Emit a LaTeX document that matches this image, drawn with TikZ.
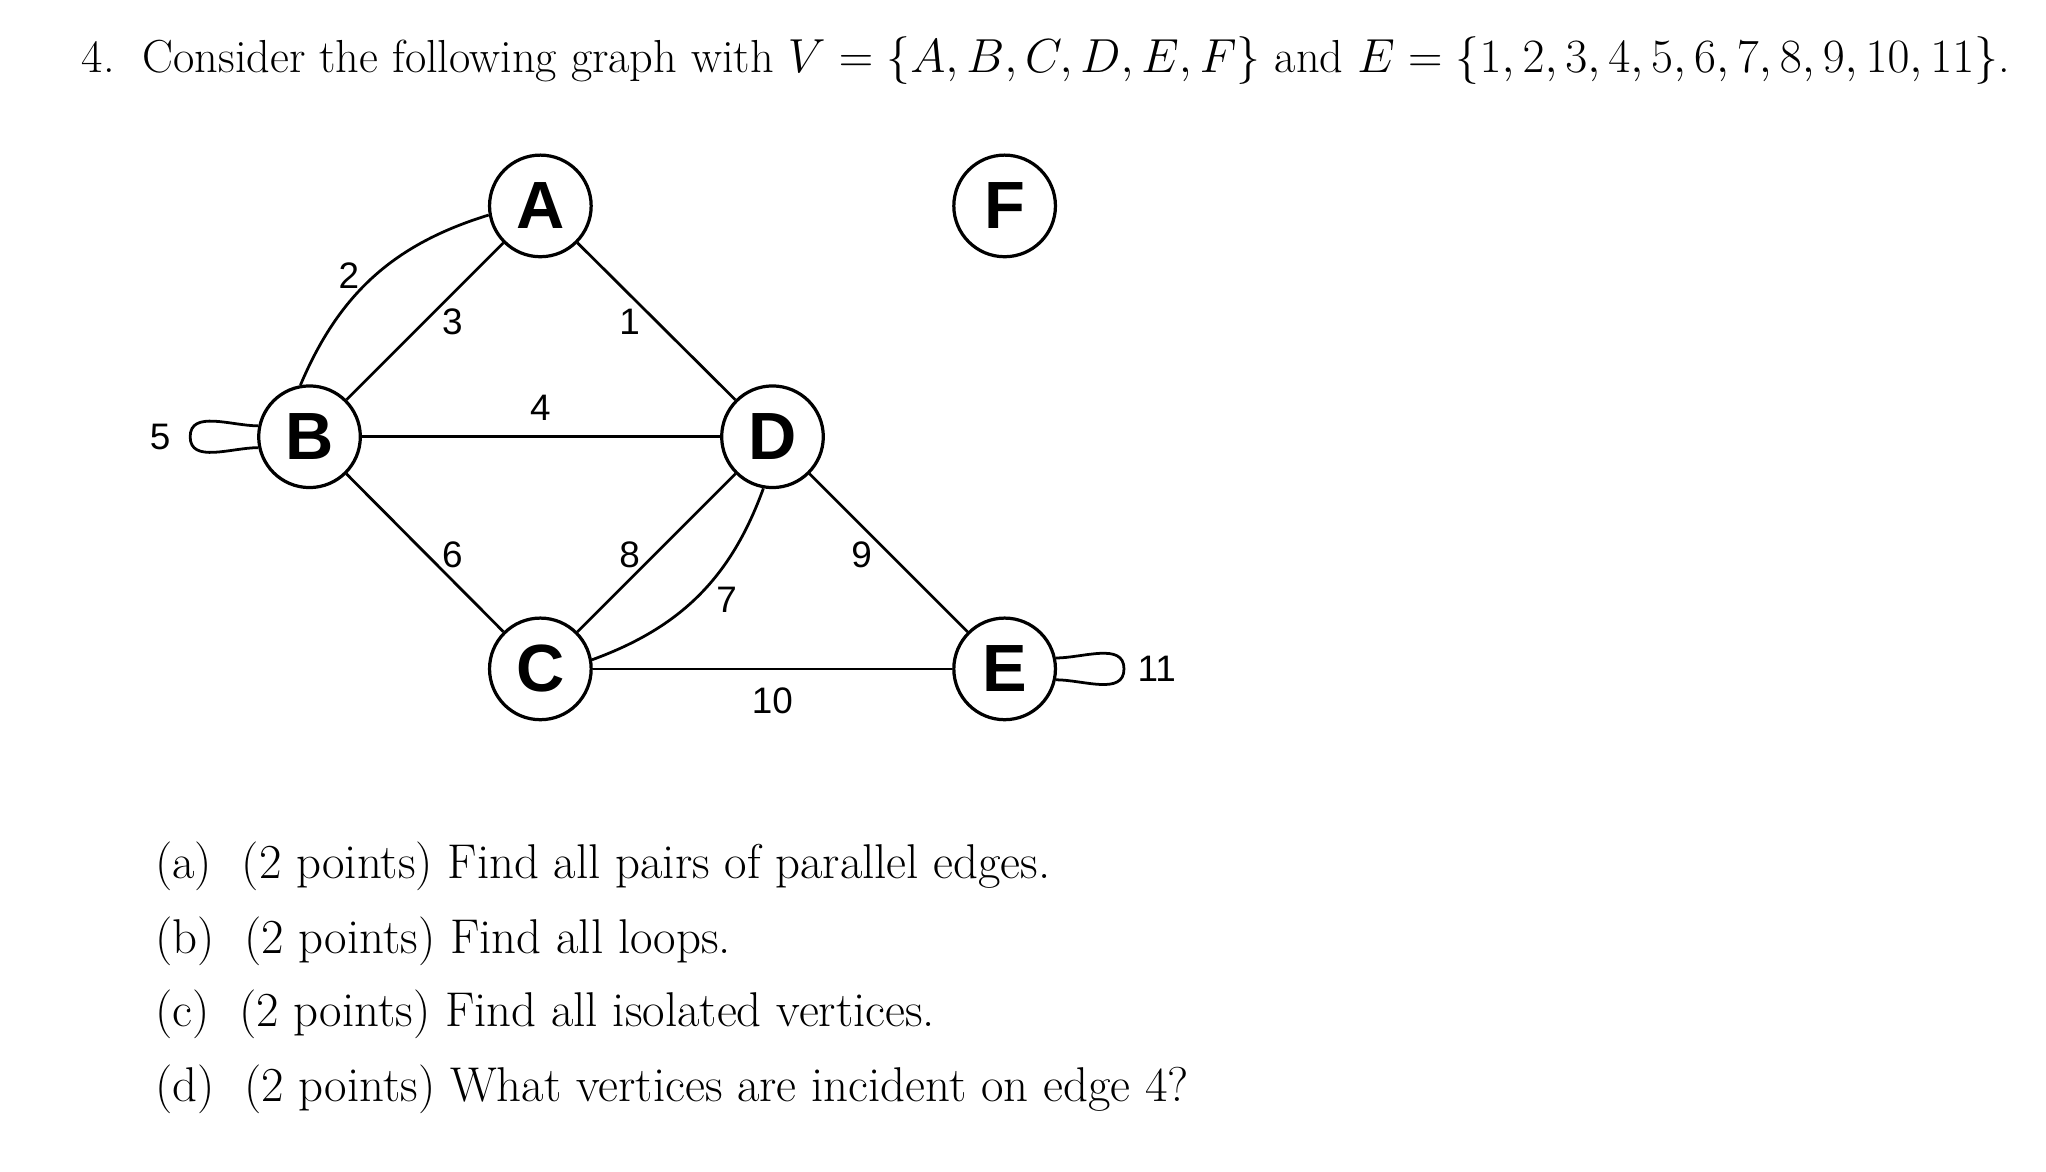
\documentclass[tikz,border=0pt]{standalone}
\usepackage{fontspec}
\newfontfamily\gsans{Liberation Sans}
\begin{document}
\begin{tikzpicture}[x=0.02cm,y=-0.02cm,
 vtx/.style={circle,draw,line width=1.4pt,minimum size=1.55cm,inner sep=0pt,font=\gsans\bfseries\fontsize{29}{30}\selectfont},
 el/.style={font=\gsans\fontsize{16}{18}\selectfont,inner sep=1pt},
 ed/.style={line width=1.2pt},
 txt/.style={anchor=base west,inner sep=0pt,font=\fontsize{21.2}{25}\selectfont}]
\useasboundingbox (0,0) rectangle (1560,893);
\node[vtx] (A) at (412,157) {A};
\node[vtx] (F) at (766,157) {F};
\node[vtx] (B) at (236,333) {B};
\node[vtx] (D) at (589,333) {D};
\node[vtx] (C) at (412,510) {C};
\node[vtx] (E) at (766,510) {E};
\coordinate (lb) at (145,333);
\coordinate (le) at (857,510);
\draw[ed] (A) -- (D);
\draw[ed] (B) -- (A);
\draw[ed] (B.100) to[bend left=25] (A.190);
\draw[ed] (B) -- (D);
\draw[ed] (B) -- (C);
\draw[ed] (C) -- (D);
\draw[ed] (D.260) to[bend left=25] (C.10);
\draw[ed] (D) -- (E);
\draw[ed] (C) -- (E);
\draw[ed] (B.168) to[out=180,in=90] (lb) to[out=-90,in=180] (B.192);
\draw[ed] (E.12) to[out=0,in=90] (le) to[out=-90,in=0] (E.-12);
\node[el] (l1) at (480,245) {1};
\node[el] (l2) at (266,210) {2};
\node[el] (l3) at (345,245) {3};
\node[el] (l4) at (412,311) {4};
\node[el] (l5) at (122,333) {5};
\node[el] (l6) at (345,423) {6};
\node[el] (l7) at (554,457) {7};
\node[el] (l8) at (480,423) {8};
\node[el] (l9) at (657,423) {9};
\node[el] (l10) at (589,534) {10};
\node[el] (l11) at (882,510) {11};
\node[txt,font=\fontsize{20.1}{25}\selectfont] (t) at (62,55) {4.\ \ Consider the following graph with $V=\{A,B,C,D,E,F\}$ and $E=\{1,2,3,4,5,6,7,8,9,10,11\}$.};
\node[txt] (qa) at (118,670) {(a)\ \ (2 points) Find all pairs of parallel edges.};
\node[txt] (qb) at (118,727) {(b)\ \ (2 points) Find all loops.};
\node[txt] (qc) at (118,783) {(c)\ \ (2 points) Find all isolated vertices.};
\node[txt] (qd) at (118,840) {(d)\ \ (2 points) What vertices are incident on edge 4?};
\end{tikzpicture}
\end{document}
